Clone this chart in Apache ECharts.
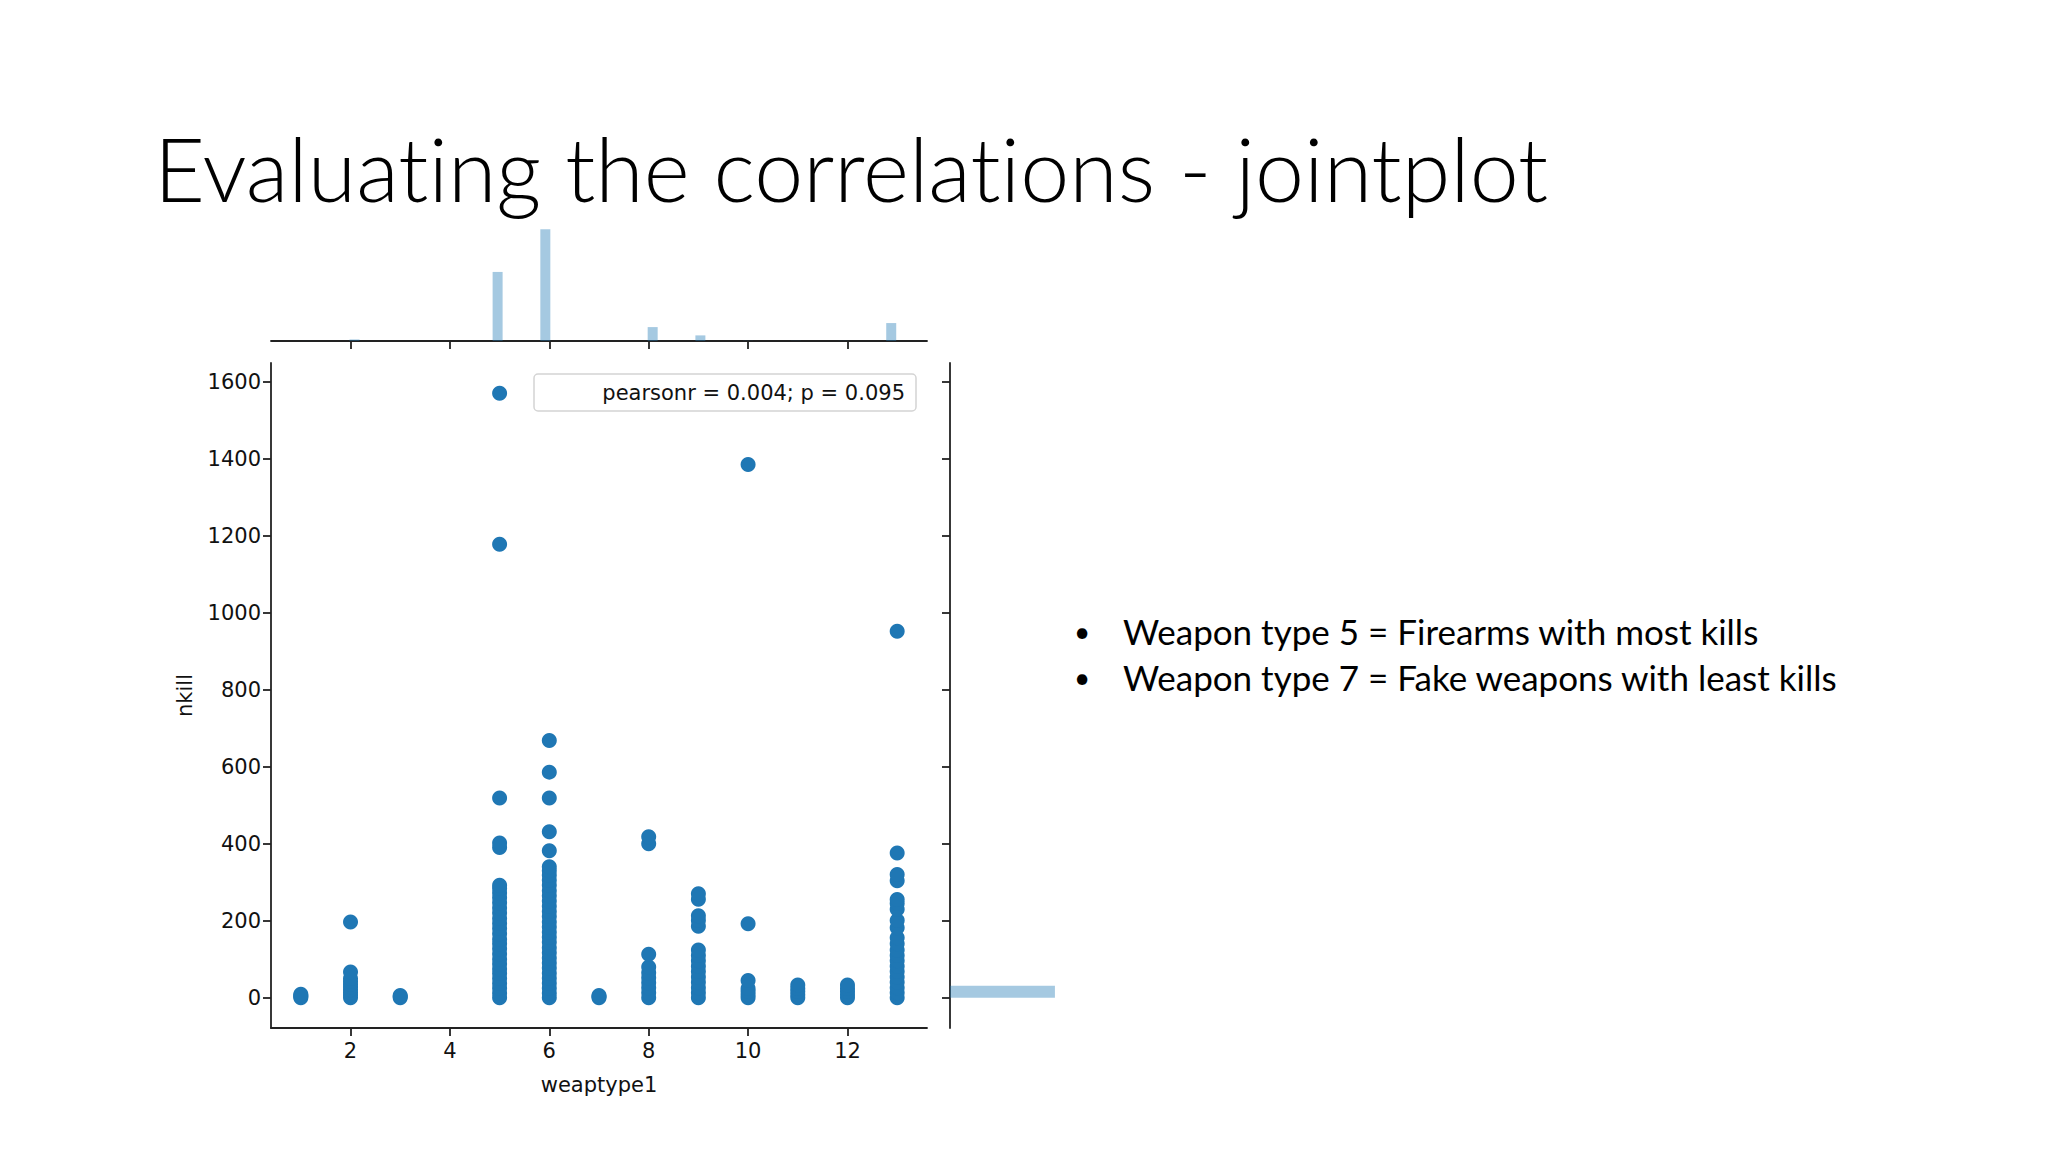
<!DOCTYPE html>
<html>
<head>
    <meta charset="UTF-8">
    <title>jointplot</title>
    <style>
        html, body {
            margin: 0;
            height: 100%;
            background-color: #FFF;
        }

        #main text {
            font-variant-ligatures: none;
        }
    </style>
</head>
<body>
<div id="main" style="width: 2048px; height: 1152px"></div>

<script src="https://cdn.jsdelivr.net/npm/echarts@6/dist/echarts.min.js"></script>
<script type="text/javascript">
    // slide texts
    var slideTitle = 'Evaluating the correlations - jointplot';
    var bullets = ['Weapon type 5 = Firearms with most kills', 'Weapon type 7 = Fake weapons with least kills'];
    var statText = 'pearsonr = 0.004; p = 0.095';

    // tick values
    var xTicks = [2, 4, 6, 8, 10, 12];
    var yTicks = [0, 200, 400, 600, 800, 1000, 1200, 1400, 1600];

    // nkill values per weaptype
    var kills1 = [0, 3, 6, 9];
    var kills2 = [0, 7, 14, 21, 28, 35, 42, 50, 67, 197];
    var kills3 = [0, 3, 6];
    var kills5 = [0, 12, 25, 37, 50, 63, 75, 88, 100, 114, 127, 140, 152, 166, 180, 193, 206, 220, 233, 247, 260, 272, 284, 292, 390, 402, 519, 1178, 1570];
    var kills6 = [0, 12, 25, 38, 51, 64, 77, 90, 103, 117, 130, 144, 157, 170, 184, 197, 211, 224, 238, 251, 265, 278, 292, 305, 318, 330, 340, 382, 431, 519, 586, 668];
    var kills7 = [0, 3, 6];
    var kills8 = [0, 13, 26, 39, 52, 65, 80, 113, 400, 418];
    var kills9 = [0, 13, 26, 40, 54, 68, 82, 96, 110, 124, 186, 201, 213, 256, 270];
    var kills10 = [0, 8, 16, 24, 45, 192, 1385];
    var kills11 = [0, 8, 16, 24, 33];
    var kills12 = [0, 8, 16, 24, 33];
    var kills13 = [0, 13, 26, 40, 54, 68, 82, 96, 110, 124, 140, 156, 182, 201, 230, 245, 255, 304, 320, 376, 952];

    // marginal histograms (counts, thousands)
    var weapTypes = [1, 2, 3, 4, 5, 6, 7, 8, 9, 10, 11, 12, 13];
    var weapCounts = [0.04, 1.3, 0.01, 0, 56.6, 91.6, 0.03, 11.4, 4.6, 0.14, 0.14, 0.11, 14.7];
    var killBinCounts = [169.6, 0.12, 0.05, 0.03, 0.02, 0.01, 0.01, 0.01];

    var killColumns = [
        [1, kills1], [2, kills2], [3, kills3], [5, kills5], [6, kills6], [7, kills7],
        [8, kills8], [9, kills9], [10, kills10], [11, kills11], [12, kills12], [13, kills13]
    ];

    var scatterData = [];
    killColumns.forEach(function (col) {
        col[1].forEach(function (k) {
            scatterData.push([col[0], k]);
        });
    });

    // 50 bins over the data range, like seaborn distplot
    var weapBinW = (13 - 1) / 50;
    var weapHist = weapTypes.map(function (w, i) {
        var k = Math.min(49, Math.floor((w - 1) / weapBinW + 1e-9));
        return [1 + (k + 0.5) * weapBinW, weapCounts[i]];
    });
    var killBinW = 1570 / 50;
    var killHist = killBinCounts.map(function (c, i) {
        return [i * killBinW, (i + 1) * killBinW, c];
    });

    var tickFont = {color: '#111', fontSize: 21, fontFamily: 'DejaVu Sans'};
    var spine = {show: true, onZero: false, lineStyle: {color: '#222', width: 1.8}};
    var ticks = {show: true, length: 8, lineStyle: {color: '#222', width: 1.8}};
    var barColor = 'rgba(31, 119, 180, 0.4)';
    var slideFont = {fontFamily: 'Lato', fontWeight: 'normal', fontSize: 35, color: '#000'};
    var bulletFont = {fontFamily: 'Lato', fontWeight: 'normal', fontSize: 28, color: '#000'};

    function plain(v) {
        return String(v);
    }

    var mCharts = echarts.init(document.getElementById('main'), null, {renderer: 'svg'});
    mCharts.setOption({
        animation: false,
        backgroundColor: '#FFF',
        title: [{
            text: slideTitle,
            left: 154, top: 124, padding: 0,
            textStyle: {fontFamily: 'Lato', fontWeight: 300, fontSize: 88, color: '#000'}
        }, {
            text: '•', left: 1074, top: 617, padding: 0, textStyle: bulletFont
        }, {
            text: bullets[0], left: 1123, top: 613, padding: 0, textStyle: slideFont
        }, {
            text: '•', left: 1074, top: 663, padding: 0, textStyle: bulletFont
        }, {
            text: bullets[1], left: 1123, top: 659, padding: 0, textStyle: slideFont
        }],
        grid: [
            {left: 271, top: 363, width: 656, height: 665},
            {left: 271, top: 208, width: 656, height: 133},
            {left: 950, top: 363, width: 133, height: 665}
        ],
        xAxis: [{
            gridIndex: 0, type: 'value', min: 0.4, max: 13.6,
            name: 'weaptype1', nameLocation: 'middle', nameGap: 46,
            nameTextStyle: tickFont,
            axisLine: spine, axisTick: Object.assign({customValues: xTicks}, ticks),
            axisLabel: Object.assign({customValues: xTicks, margin: 12, formatter: plain}, tickFont),
            splitLine: {show: false}
        }, {
            gridIndex: 1, type: 'value', min: 0.4, max: 13.6,
            axisLine: spine, axisTick: Object.assign({customValues: xTicks}, ticks),
            axisLabel: {show: false}, splitLine: {show: false}
        }, {
            gridIndex: 2, type: 'value', min: 0, max: 215, show: false
        }],
        yAxis: [{
            gridIndex: 0, type: 'value', min: -78.5, max: 1648.5,
            name: 'nkill', nameLocation: 'middle', nameGap: 76, nameRotate: 90,
            nameTextStyle: tickFont,
            axisLine: spine, axisTick: Object.assign({customValues: yTicks}, ticks),
            axisLabel: Object.assign({customValues: yTicks, margin: 10, formatter: plain}, tickFont),
            splitLine: {show: false}
        }, {
            gridIndex: 1, type: 'value', min: 0, max: 109, show: false
        }, {
            gridIndex: 2, type: 'value', min: -78.5, max: 1648.5,
            axisLine: spine, axisTick: Object.assign({customValues: yTicks}, ticks),
            axisLabel: {show: false}, splitLine: {show: false}
        }],
        series: [{
            type: 'scatter',
            xAxisIndex: 0, yAxisIndex: 0,
            symbolSize: 15,
            itemStyle: {color: '#1f77b4', opacity: 1},
            data: scatterData
        }, {
            type: 'bar',
            xAxisIndex: 1, yAxisIndex: 1,
            barWidth: 10,
            itemStyle: {color: barColor},
            data: weapHist
        }, {
            type: 'custom',
            xAxisIndex: 2, yAxisIndex: 2,
            renderItem: function (params, api) {
                var p0 = api.coord([0, api.value(1)]);
                var p1 = api.coord([api.value(2), api.value(0)]);
                return {
                    type: 'rect',
                    shape: {x: p0[0], y: p0[1], width: p1[0] - p0[0], height: p1[1] - p0[1]},
                    style: {fill: barColor}
                };
            },
            data: killHist
        }],
        graphic: [{
            type: 'rect',
            shape: {x: 534, y: 374, width: 382, height: 37, r: 4},
            style: {fill: '#FFF', stroke: '#d4d4d4', lineWidth: 1.5}
        }, {
            type: 'text',
            x: 905, y: 393,
            style: {
                text: statText, align: 'right', verticalAlign: 'middle',
                fill: '#111', fontSize: 21, fontFamily: 'DejaVu Sans'
            }
        }]
    });
</script>
</body>
</html>
